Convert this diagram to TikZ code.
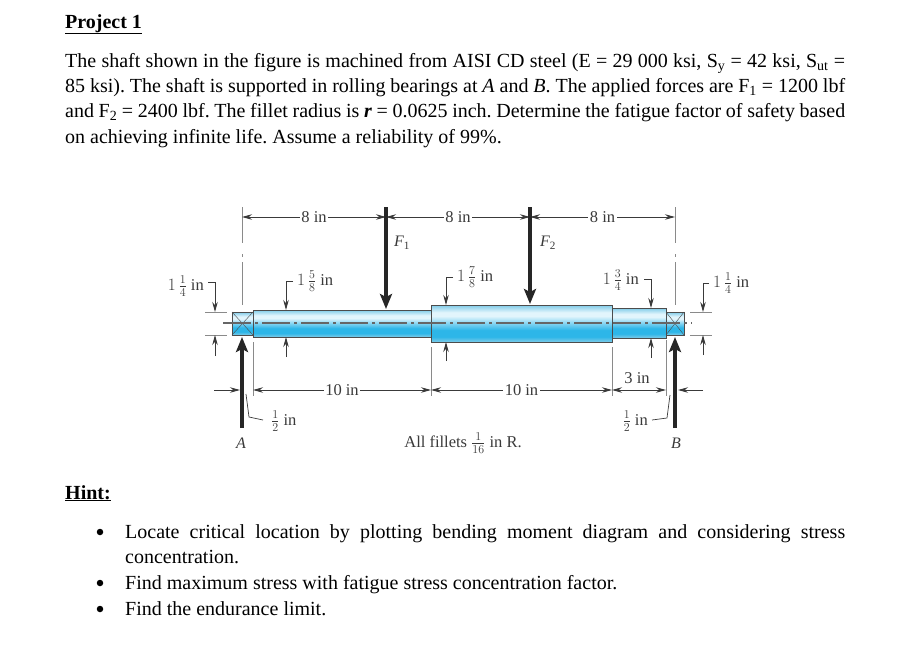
\documentclass[tikz,border=0pt]{standalone}
\usepackage{fontspec}
\setmainfont{Liberation Serif}
\usetikzlibrary{arrows.meta}
\definecolor{figgrey}{HTML}{3A3A3A}
\definecolor{extgrey}{HTML}{8A8A8A}
\definecolor{shaftedge}{HTML}{7FCBE8}
\definecolor{shaftdeep}{HTML}{2DB6E8}
\definecolor{shaftmid}{HTML}{8AD6F2}
\definecolor{shaftpale}{HTML}{E2F5FC}
\pgfdeclareverticalshading{shaftshade}{100bp}{color(0bp)=(shaftedge); color(25bp)=(shaftedge); color(32bp)=(shaftdeep); color(41bp)=(shaftdeep); color(51bp)=(shaftmid); color(60bp)=(shaftpale); color(65bp)=(shaftpale); color(75bp)=(shaftedge); color(100bp)=(shaftedge)}
\tikzset{
    bodyline/.style={anchor=base west, inner sep=0pt, font=\fontsize{20}{24}\selectfont},
    headline/.style={bodyline, font=\fontsize{20}{24}\selectfont\bfseries},
    figlabel/.style={text=figgrey, inner sep=0pt, font=\fontsize{16.5}{19}\selectfont},
    letterlabel/.style={figlabel, font=\fontsize{16}{19}\selectfont\itshape},
    dimlabel/.style={figlabel, fill=white, inner sep=1.5pt},
    dimline/.style={draw=figgrey, line width=0.8pt, {Stealth[length=10pt,width=5.5pt]}-{Stealth[length=10pt,width=5.5pt]}},
    pointer/.style={draw=figgrey, line width=0.8pt, -{Stealth[length=10pt,width=5.5pt]}},
    extline/.style={draw=extgrey, line width=0.9pt},
    leader/.style={draw=figgrey, line width=0.7pt},
    force/.style={draw=black!85, line width=3.2pt, -{Stealth[length=15pt,width=12pt,inset=3pt]}},
    shaftpart/.style={draw=black!70, line width=1pt, shading=shaftshade},
    bearing/.style={shaftpart},
    centerline/.style={draw=black!60, line width=1.2pt, dash pattern=on 28pt off 4pt on 3pt off 4pt},
    bullet/.style={circle, fill=black, inner sep=0pt, minimum size=6.5pt}
}
\begin{document}
\frenchspacing
\begin{tikzpicture}[x=1pt, y=-1pt]
    \useasboundingbox (0, 0) rectangle (906, 656);

    % text above the figure
    \node[headline] (title) at (65, 28) {\underline{Project 1}};
    \node[bodyline] (lineA) at (65, 67) {\makebox[780pt][s]{The shaft shown in the figure is machined from AISI CD steel (E = 29 000 ksi, S\textsubscript{y} = 42 ksi, S\textsubscript{ut} =}};
    \node[bodyline] (lineB) at (65, 92) {\makebox[780pt][s]{85 ksi). The shaft is supported in rolling bearings at \textit{A} and \textit{B}. The applied forces are F\textsubscript{1} = 1200 lbf}};
    \node[bodyline] (lineC) at (65, 117) {\makebox[780pt][s]{and F\textsubscript{2} = 2400 lbf. The fillet radius is \textbf{\textit{r}} = 0.0625 inch. Determine the fatigue factor of safety based}};
    \node[bodyline] (lineD) at (65, 143) {on achieving infinite life. Assume a reliability of 99\%.};

    % shaft
    \path[shaftpart] (253, 310) rectangle (431, 337);
    \path[shaftpart] (612, 308) rectangle (666, 338);
    \path[shaftpart] (431, 305) rectangle (612, 342);
    \path[bearing] (232, 312) rectangle (253, 335);
    \path[bearing] (666, 312) rectangle (684, 335);
    \draw[black!70] (232, 312) -- (253, 335);
    \draw[black!70] (232, 335) -- (253, 312);
    \draw[black!70] (666, 312) -- (684, 335);
    \draw[black!70] (666, 335) -- (684, 312);
    \draw[centerline] (223, 323) -- (692, 323);

    % extension lines
    \draw[extline] (242, 207) -- (242, 243);
    \draw[extline] (242, 254) -- (242, 257);
    \draw[extline] (242, 262) -- (242, 305);
    \draw[extline] (675, 207) -- (675, 243);
    \draw[extline] (675, 254) -- (675, 257);
    \draw[extline] (675, 262) -- (675, 305);
    \draw[extline] (253, 342) -- (253, 396);
    \draw[extline] (431, 347) -- (431, 396);
    \draw[extline] (612, 347) -- (612, 396);
    \draw[extline] (666, 340) -- (666, 396);
    \draw[extline] (205, 312) -- (227, 312);
    \draw[extline] (205, 335) -- (227, 335);
    \draw[extline] (690, 312) -- (712, 312);
    \draw[extline] (690, 335) -- (712, 335);

    % stations of the dimension lines
    \coordinate (topA) at (242, 217);
    \coordinate (topF1) at (386, 217);
    \coordinate (topF2) at (530, 217);
    \coordinate (topB) at (675, 217);
    \coordinate (lowA) at (253, 390);
    \coordinate (lowL) at (431, 390);
    \coordinate (lowR) at (612, 390);
    \coordinate (lowB) at (666, 390);

    \draw[dimline] (topA) -- node[dimlabel] (dimAF) {8 in} (topF1);
    \draw[dimline] (topF1) -- node[dimlabel] (dimFF) {8 in} (topF2);
    \draw[dimline] (topF2) -- node[dimlabel] (dimFB) {8 in} (topB);
    \draw[dimline] (lowA) -- node[dimlabel] (dimTenA) {10 in} (lowL);
    \draw[dimline] (lowL) -- node[dimlabel] (dimTenB) {10 in} (lowR);
    \draw[dimline] (lowR) -- (lowB);
    \node[figlabel] (dimThree) at (637, 378) {3 in};

    % forces
    \coordinate (F1top) at (386, 207);
    \coordinate (F1end) at (386, 309);
    \coordinate (F2top) at (530, 207);
    \coordinate (F2end) at (530, 304);
    \coordinate (Aend) at (242, 428);
    \coordinate (Atip) at (242, 337);
    \coordinate (Bend) at (675, 428);
    \coordinate (Btip) at (675, 337);
    \draw[force] (F1top) -- (F1end);
    \draw[force] (F2top) -- (F2end);
    \draw[force] (Aend) -- (Atip);
    \draw[force] (Bend) -- (Btip);
    \node[letterlabel] (labF1) at (402, 243) {F\textsubscript{\upshape 1}};
    \node[letterlabel] (labF2) at (548, 243) {F\textsubscript{\upshape 2}};
    \node[letterlabel] (labA) at (241, 443) {A};
    \node[letterlabel] (labB) at (676, 443) {B};

    % diameters
    \draw[pointer] (208, 282) -- (215, 282) -- (215, 312);
    \draw[pointer] (215, 356) -- (215, 335);
    \node[figlabel, anchor=east] (diaA) at (204, 286) {$1\,\frac{1}{4}$ in};
    \draw[pointer] (293, 281) -- (286, 281) -- (286, 310);
    \draw[pointer] (286, 357) -- (286, 337);
    \node[figlabel, anchor=west] (diaB) at (297, 281) {$1\,\frac{5}{8}$ in};
    \draw[pointer] (453, 277) -- (446, 277) -- (446, 305);
    \draw[pointer] (446, 361) -- (446, 342);
    \node[figlabel, anchor=west] (diaC) at (457, 277) {$1\,\frac{7}{8}$ in};
    \draw[pointer] (644, 279) -- (651, 279) -- (651, 308);
    \draw[pointer] (651, 358) -- (651, 338);
    \node[figlabel, anchor=east] (diaD) at (639, 280) {$1\,\frac{3}{4}$ in};
    \draw[pointer] (709, 283) -- (703, 283) -- (703, 312);
    \draw[pointer] (703, 355) -- (703, 335);
    \node[figlabel, anchor=west] (diaE) at (713, 283) {$1\,\frac{1}{4}$ in};

    % bearing widths
    \draw[pointer] (214, 390) -- (240, 390);
    \draw[pointer] (703, 390) -- (678, 390);
    \draw[leader] (246, 394) -- (249, 417) -- (263, 420);
    \draw[leader] (670, 395) -- (667, 418) -- (652, 420);
    \node[figlabel, anchor=west] (widA) at (271, 421) {$\frac{1}{2}$ in};
    \node[figlabel, anchor=east] (widB) at (648, 421) {$\frac{1}{2}$ in};
    \node[figlabel] (fillets) at (463, 443) {All fillets $\frac{1}{16}$ in R.};

    % hints
    \node[headline] (hint) at (65, 499) {\underline{Hint:}};
    \node[bullet] (dotA) at (100, 532) {};
    \node[bullet] (dotB) at (100, 583) {};
    \node[bullet] (dotC) at (100, 609) {};
    \node[bodyline] (hintA) at (125, 538) {\makebox[720pt][s]{Locate critical location by plotting bending moment diagram and considering stress}};
    \node[bodyline] (hintAb) at (125, 563) {concentration.};
    \node[bodyline] (hintB) at (125, 589) {Find maximum stress with fatigue stress concentration factor.};
    \node[bodyline] (hintC) at (125, 615) {Find the endurance limit.};
\end{tikzpicture}
\end{document}
